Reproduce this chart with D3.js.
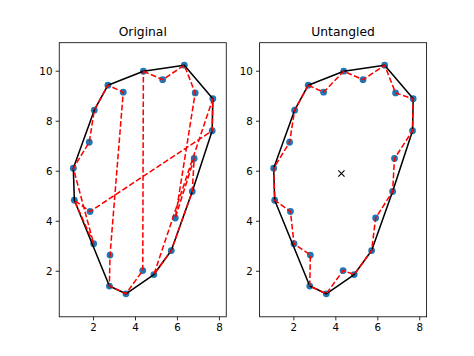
<!DOCTYPE html>
<html><head><meta charset="utf-8">
<script src="https://cdn.jsdelivr.net/npm/d3@7"></script>
<style>body{margin:0;background:#fff}svg{display:block}</style>
</head><body>
<svg id="c" width="474" height="356"></svg>
<script>
// point coordinates
const xs = [6.35,4.40,5.32,2.71,3.44,6.87,7.71,2.06,7.68,1.82,1.06,6.82,6.73,1.11,1.86,5.92,2.03,5.73,2.81,4.37,4.90,2.78,3.57];
const ys = [10.22,9.98,9.64,9.42,9.14,9.11,8.88,8.42,7.60,7.14,6.10,6.49,5.17,4.82,4.37,4.11,3.08,2.81,2.63,2.01,1.85,1.39,1.08];
// tour orders (indices into points)
const originalTour = [1,2,0,5,15,11,12,17,20,6,8,14,13,16,10,9,7,3,4,18,21,22,19];
const untangledTour = [3,4,1,2,0,5,6,8,11,12,15,17,20,19,22,21,18,16,14,13,10,9,7];
const centre = [4.29, 5.89];
const titles = ["Original","Untangled"];
const xTicks = [2,4,6,8];
const yTicks = [2,4,6,8,10];
const xDomain = [0.39, 8.35];
const yDomain = [0.16, 11.12];

const svg = d3.select("#c");
const pts = xs.map((x,i)=>[x, ys[i]]);
const hull = d3.polygonHull(pts);

const panels = [
  {left:59.25, tour: originalTour, title: titles[0], centre:false},
  {left:259.6, tour: untangledTour, title: titles[1], centre:true}
];
const W = 167, axTop = 42.7, axBottom = 316.8;

panels.forEach(p=>{
  const x = d3.scaleLinear().domain(xDomain).range([p.left, p.left+W]);
  const y = d3.scaleLinear().domain(yDomain).range([axBottom, axTop]);
  const g = svg.append("g");
  const clipId = "clip"+Math.round(p.left);
  svg.append("clipPath").attr("id",clipId).append("rect")
    .attr("x",p.left).attr("y",axTop).attr("width",W).attr("height",axBottom-axTop);
  const plot = g.append("g").attr("clip-path",`url(#${clipId})`);

  // scatter
  plot.selectAll("circle").data(pts).join("circle")
    .attr("cx",d=>x(d[0])).attr("cy",d=>y(d[1])).attr("r",3.4)
    .attr("fill","#1f77b4");

  const line = d3.line().x(d=>x(d[0])).y(d=>y(d[1]));
  // hull
  plot.append("path").attr("d", line(hull.concat([hull[0]])))
    .attr("fill","none").attr("stroke","#000").attr("stroke-width",1.54)
    .attr("stroke-linejoin","round").attr("stroke-linecap","square");
  // tour
  const tp = p.tour.map(i=>pts[i]); tp.push(pts[p.tour[0]]);
  plot.append("path").attr("d", line(tp))
    .attr("fill","none").attr("stroke","#ff0000").attr("stroke-width",1.54)
    .attr("stroke-dasharray","5.7,2.47").attr("stroke-linejoin","round");

  if(p.centre){
    const cx = x(centre[0]), cy = y(centre[1]), s = 3.1;
    g.append("path").attr("d",`M${cx-s},${cy-s}L${cx+s},${cy+s}M${cx-s},${cy+s}L${cx+s},${cy-s}`)
      .attr("stroke","#000").attr("stroke-width",1.1).attr("fill","none");
  }

  // axes
  const xa = g.append("g").attr("transform",`translate(0,${axBottom})`)
    .call(d3.axisBottom(x).tickValues(xTicks).tickSize(3.6).tickPadding(3.2).tickSizeOuter(0));
  const ya = g.append("g").attr("transform",`translate(${p.left},0)`)
    .call(d3.axisLeft(y).tickValues(yTicks).tickSize(3.6).tickPadding(3.2).tickSizeOuter(0));
  [xa,ya].forEach(a=>{
    a.select(".domain").remove();
    a.selectAll("line").attr("stroke","#000").attr("stroke-width",0.82);
    a.selectAll("text").attr("font-family","DejaVu Sans").attr("font-size","10.3px").attr("fill","#000");
  });
  // frame
  g.append("rect").attr("x",p.left).attr("y",axTop).attr("width",W).attr("height",axBottom-axTop)
    .attr("fill","none").attr("stroke","#000").attr("stroke-width",0.82);
  // title
  g.append("text").attr("x",p.left+W/2).attr("y",axTop-6.5).attr("text-anchor","middle")
    .attr("font-family","DejaVu Sans").attr("font-size","12.3px").attr("fill","#000").text(p.title);
});
</script>
</body></html>
